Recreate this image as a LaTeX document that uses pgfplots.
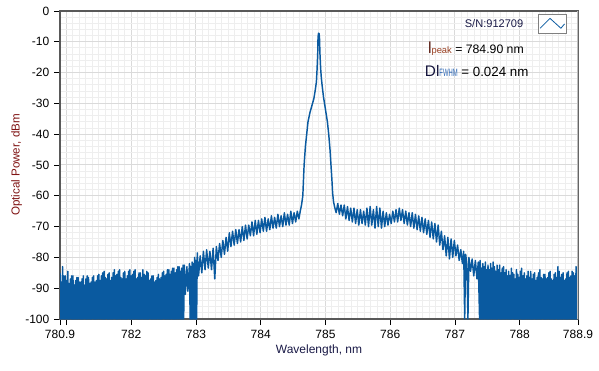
\documentclass[border=0pt]{standalone}
\usepackage{fontspec}
\setmainfont{Liberation Sans}
\usepackage{graphicx}
\usepackage{pgfplots}
\pgfplotsset{compat=1.18}
\definecolor{trace}{RGB}{10,90,160}
\definecolor{majgrid}{RGB}{218,218,218}
\definecolor{mingrid}{RGB}{238,238,238}
\definecolor{ylab}{RGB}{128,20,20}
\definecolor{xlab}{RGB}{25,25,70}
\definecolor{lcol}{RGB}{90,30,20}
\definecolor{peakcol}{RGB}{150,60,30}
\definecolor{dcol}{RGB}{20,20,60}
\definecolor{fwhmcol}{RGB}{40,100,180}
\begin{document}
\begin{tikzpicture}
\begin{axis}[name=ax, scale only axis, width=388.5pt, height=231pt,
 xmin=780.9, xmax=788.9, ymin=-100, ymax=0,
 xtick={780.9,781,782,783,784,785,786,787,788,788.9},
 xticklabels={780.9,,782,783,784,785,786,787,788,788.9},
 ytick={-100,-90,-80,-70,-60,-50,-40,-30,-20,-10,0},
 yticklabels={-100,-90,-80,-70,-60,-50,-40,-30,-20,-10,0},
 minor xtick={781.1,781.2,...,788.85},
 minor ytick={-98,-96,...,-2},
 grid=both,
 major grid style={draw=majgrid, line width=0.75pt},
 minor grid style={draw=mingrid, line width=0.75pt},
 tick pos=left, tick align=outside,
 major tick length=4.5pt, minor tick length=0pt,
 every tick/.style={black, line width=0.6pt},
 axis line style={draw=black!65, line width=0.9pt},
 ticklabel style={font=\fontsize{9}{10}\selectfont},
 xlabel={Wavelength, nm}, ylabel={Optical Power, dBm},
 every axis x label/.style={at={(axis description cs:0.5,0)}, anchor=center, yshift=-23.5pt, font=\fontsize{9}{10}\selectfont, text=xlab},
 every axis y label/.style={at={(axis description cs:0,0.5)}, xshift=-32.5pt, rotate=90, anchor=center, font=\fontsize{8.7}{10}\selectfont, text=ylab},
]
\addplot[trace, line width=1.1pt, line join=round] table {
x y
780.90 -85
780.91 -100
780.92 -88
780.93 -100
780.94 -83
780.95 -100
780.96 -86
780.97 -100
780.98 -86
780.99 -100
781.00 -87.5
781.01 -100
781.02 -84.5
781.03 -100
781.04 -88.5
781.05 -100
781.06 -87
781.07 -100
781.08 -86
781.09 -100
781.10 -86
781.11 -100
781.12 -89
781.13 -100
781.14 -87.5
781.15 -100
781.16 -86.5
781.17 -100
781.18 -86.5
781.19 -100
781.20 -88
781.21 -100
781.22 -88
781.23 -100
781.24 -87
781.25 -100
781.26 -86
781.27 -100
781.28 -89
781.29 -100
781.30 -87
781.31 -100
781.32 -86
781.33 -100
781.34 -86.5
781.35 -100
781.36 -88.5
781.37 -100
781.38 -88
781.39 -100
781.40 -86.5
781.41 -100
781.42 -86
781.43 -100
781.44 -88
781.45 -100
781.46 -87.5
781.47 -100
781.48 -86
781.49 -100
781.50 -85.5
781.51 -100
781.52 -87.5
781.53 -100
781.54 -86
781.55 -100
781.56 -85
781.57 -100
781.58 -84.5
781.59 -100
781.60 -86.5
781.61 -100
781.62 -87
781.63 -100
781.64 -85.5
781.65 -100
781.66 -85
781.67 -100
781.68 -87.5
781.69 -100
781.70 -86.5
781.71 -100
781.72 -85
781.73 -100
781.74 -84
781.75 -100
781.76 -86
781.77 -100
781.78 -85.5
781.79 -100
781.80 -84.5
781.81 -100
781.82 -84
781.83 -100
781.84 -86.5
781.85 -100
781.86 -87
781.87 -100
781.88 -85
781.89 -100
781.90 -84.5
781.91 -100
781.92 -87
781.93 -100
781.94 -86
781.95 -100
781.96 -84.5
781.97 -100
781.98 -84
781.99 -100
782.00 -86
782.01 -100
782.02 -85.5
782.03 -100
782.04 -84.5
782.05 -100
782.06 -84
782.07 -100
782.08 -87
782.09 -100
782.10 -86.5
782.11 -100
782.12 -85
782.13 -100
782.14 -85
782.15 -100
782.16 -86.5
782.17 -100
782.18 -84
782.19 -100
782.20 -85.5
782.21 -100
782.22 -86
782.23 -100
782.24 -84.5
782.25 -100
782.26 -85
782.27 -100
782.28 -87.5
782.29 -100
782.30 -87
782.31 -100
782.32 -86
782.33 -100
782.34 -86
782.35 -100
782.36 -88
782.37 -100
782.38 -87.5
782.39 -100
782.40 -86.5
782.41 -100
782.42 -85.5
782.43 -100
782.44 -87
782.45 -100
782.46 -86.5
782.47 -100
782.48 -85
782.49 -100
782.50 -84.5
782.51 -100
782.52 -86
782.53 -100
782.54 -85.5
782.55 -100
782.56 -84
782.57 -100
782.58 -84
782.59 -100
782.60 -85.5
782.61 -100
782.62 -84.5
782.63 -100
782.64 -83.5
782.65 -100
782.66 -83.5
782.67 -100
782.68 -85
782.69 -100
782.70 -84
782.71 -100
782.72 -83
782.73 -100
782.74 -83
782.75 -100
782.76 -84.5
782.77 -100
782.78 -83.5
782.79 -100
782.80 -82.5
782.81 -100
782.82 -82.5
782.835 -92
782.86 -83
782.875 -91
782.90 -82
782.91 -100
782.92 -83
782.93 -100
782.94 -81.5
782.95 -100
782.96 -82
782.97 -100
782.98 -80
782.99 -100
783.00 -81
783.01 -100
783.02 -78.5
783.040 -86
783.065 -79.5
783.090 -85
783.115 -78
783.140 -84
783.165 -77.5
783.190 -83.5
783.215 -78
783.240 -84
783.265 -77
783.290 -87
783.315 -76.5
783.340 -81
783.365 -75.5
783.390 -80
783.415 -74.5
783.440 -79
783.465 -73.5
783.490 -78
783.515 -72
783.540 -76.5
783.565 -71.5
783.590 -76
783.615 -71
783.640 -75.5
783.665 -71
783.690 -75
783.715 -70
783.740 -74.5
783.765 -69.5
783.790 -74
783.815 -69.5
783.840 -73
783.865 -68.5
783.890 -73
783.915 -68
783.940 -72.5
783.965 -68
783.990 -72
784.015 -67.5
784.040 -71.5
784.065 -67
784.090 -71.5
784.115 -67.5
784.140 -71
784.165 -66.5
784.190 -70.5
784.215 -67
784.240 -70.5
784.265 -66
784.290 -70
784.315 -66.5
784.340 -70
784.365 -65.5
784.390 -69.5
784.415 -66
784.440 -69.5
784.465 -65
784.490 -69
784.515 -65.5
784.540 -68.5
784.565 -65
784.590 -67.5
784.610 -65
784.630 -63
784.650 -60
784.660 -55
784.670 -50
784.690 -44
784.710 -40
784.730 -36
784.760 -33
784.780 -31.5
784.800 -30
784.820 -28.5
784.840 -26
784.860 -23
784.870 -19
784.880 -14
784.885 -8.5
784.893 -7.2
784.902 -7.4
784.908 -9
784.915 -14
784.925 -18.5
784.935 -21.5
784.950 -24.5
784.970 -28
785.000 -32
785.030 -36
785.050 -40
785.070 -45
785.085 -50
785.100 -55
785.110 -59
785.125 -62
785.140 -63.5
785.165 -65.5
785.190 -62.5
785.215 -66
785.240 -63
785.265 -66.5
785.290 -63
785.315 -67.5
785.340 -63.5
785.365 -68
785.390 -64
785.415 -68.5
785.440 -64
785.465 -69
785.490 -64.5
785.515 -69.5
785.540 -64.5
785.565 -69
785.590 -65
785.615 -69.5
785.640 -64
785.665 -70
785.690 -63.5
785.715 -69.5
785.740 -64.5
785.765 -70.5
785.790 -63.5
785.815 -70
785.840 -64
785.865 -70.5
785.890 -65
785.915 -70
785.940 -65.5
785.965 -69.5
785.990 -66
786.015 -69
786.040 -65
786.065 -68.5
786.090 -64.5
786.115 -68.5
786.140 -64
786.165 -68
786.190 -64.5
786.215 -69
786.240 -65
786.265 -69.5
786.290 -65.5
786.315 -70
786.340 -65.5
786.365 -70.5
786.390 -66
786.415 -71
786.440 -66.5
786.465 -71.5
786.490 -67
786.515 -72
786.540 -67.5
786.565 -72.5
786.590 -68
786.615 -73.5
786.640 -68.5
786.665 -74
786.690 -69
786.715 -75
786.740 -69.5
786.765 -76
786.790 -71.5
786.815 -77.5
786.840 -73
786.865 -79.5
786.890 -73.5
786.915 -80.5
786.940 -74
786.965 -80
786.990 -74.5
787.015 -79.5
787.040 -76
787.065 -81
787.090 -77.5
787.115 -82
787.135 -78
787.150 -100
787.165 -79
787.185 -82.5
787.200 -100
787.215 -80
787.240 -84.5
787.265 -80.5
787.290 -86
787.315 -81
787.340 -87
787.360 -81.5
787.38 -100
787.39 -81
787.40 -100
787.41 -83.5
787.42 -100
787.43 -82
787.44 -100
787.45 -83
787.46 -100
787.47 -81.5
787.48 -100
787.49 -84
787.50 -100
787.51 -82.5
787.52 -100
787.53 -84
787.54 -100
787.55 -82
787.56 -100
787.57 -83.5
787.58 -100
787.59 -81.5
787.60 -100
787.61 -83
787.62 -100
787.63 -84.5
787.64 -100
787.65 -82.5
787.66 -100
787.67 -84
787.68 -100
787.69 -82.5
787.70 -100
787.71 -85
787.72 -100
787.73 -83.5
787.74 -100
787.75 -83
787.76 -100
787.77 -85
787.78 -100
787.79 -84
787.80 -100
787.81 -86
787.82 -100
787.83 -84.5
787.84 -100
787.85 -86
787.86 -100
787.87 -83.5
787.88 -100
787.89 -85
787.90 -100
787.91 -85.5
787.92 -100
787.93 -87
787.94 -100
787.95 -84
787.96 -100
787.97 -85.5
787.98 -100
787.99 -86.5
788.00 -100
788.01 -84.5
788.02 -100
788.03 -83.5
788.04 -100
788.05 -86
788.06 -100
788.07 -85
788.08 -100
788.09 -87
788.10 -100
788.11 -86
788.12 -100
788.13 -84.5
788.14 -100
788.15 -86.5
788.16 -100
788.17 -84.5
788.18 -100
788.19 -87
788.20 -100
788.21 -85.5
788.22 -100
788.23 -85
788.24 -100
788.25 -87.5
788.26 -100
788.27 -86.5
788.28 -100
788.29 -85
788.30 -100
788.31 -84
788.32 -100
788.33 -86.5
788.34 -100
788.35 -87
788.36 -100
788.37 -85.5
788.38 -100
788.39 -85.5
788.40 -100
788.41 -87
788.42 -100
788.43 -86.5
788.44 -100
788.45 -85
788.46 -100
788.47 -84.5
788.48 -100
788.49 -87
788.50 -100
788.51 -87.5
788.52 -100
788.53 -85.5
788.54 -100
788.55 -85
788.56 -100
788.57 -86.5
788.58 -100
788.59 -83
788.60 -100
788.61 -84.5
788.62 -100
788.63 -86.5
788.64 -100
788.65 -85.5
788.66 -100
788.67 -85
788.68 -100
788.69 -87.5
788.70 -100
788.71 -87
788.72 -100
788.73 -85
788.74 -100
788.75 -84.5
788.76 -100
788.77 -86.5
788.78 -100
788.79 -86
788.80 -100
788.81 -84.5
788.82 -100
788.83 -85
788.84 -100
788.85 -86
788.86 -100
788.87 -83
788.88 -100
788.89 -83.5
788.90 -100
};
\draw[black!25, line width=0.9pt] (rel axis cs:1,0) -- (rel axis cs:1,1);
\node[anchor=base west, inner sep=0pt, font=\fontsize{8.3}{9.6}\selectfont, text=xlab] at (rel axis cs:0.781,0.948) {S/N:912709};
\draw[draw=black!50, fill=white, line width=0.6pt] (rel axis cs:0.923,0.927) rectangle (rel axis cs:0.977,0.990);
\draw[trace, line width=0.6pt] (rel axis cs:0.927,0.944) -- (rel axis cs:0.946,0.976) -- (rel axis cs:0.967,0.944) -- (rel axis cs:0.974,0.958);
\node[anchor=base west, inner sep=0pt] at (rel axis cs:0.710,0.8627) {\color{lcol}\fontsize{12}{13}\selectfont l\fontsize{7}{8}\selectfont\color{peakcol}peak\fontsize{9.2}{10}\selectfont\color{black}\ = 784.90 nm};
\node[anchor=base west, inner sep=0pt] at (rel axis cs:0.704,0.787) {\color{dcol}\fontsize{11.5}{12}\selectfont Dl\fontsize{8}{9}\selectfont\color{fwhmcol}\scalebox{0.55}[1]{FWHM}\fontsize{10}{11}\selectfont\color{black}\ = 0.024 nm};
\end{axis}
\pgfresetboundingbox
\path[use as bounding box] ([xshift=-45pt,yshift=-38.25pt]ax.south west) rectangle ([xshift=15.75pt,yshift=8.25pt]ax.north east);
\end{tikzpicture}
\end{document}
